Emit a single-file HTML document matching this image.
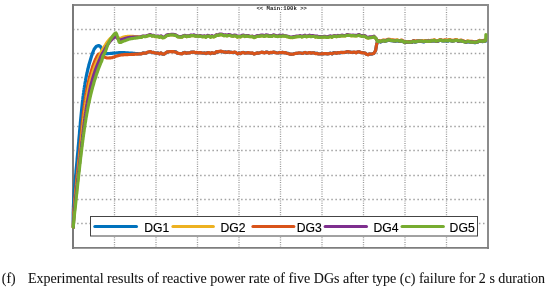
<!DOCTYPE html>
<html><head><meta charset="utf-8">
<style>
html,body{margin:0;padding:0;background:#fff;}
body{width:550px;height:290px;position:relative;overflow:hidden;}
svg{position:absolute;left:0;top:0;}
.cap{position:absolute;left:0;top:0;font-family:"Liberation Serif",serif;font-size:13.8px;color:#111;white-space:nowrap;-webkit-text-stroke:0.08px #111;}
</style></head><body>
<svg width="550" height="290" viewBox="0 0 550 290">
<g stroke="#a0a0a0" stroke-width="1.3" stroke-dasharray="1.5 2.6" fill="none"><line x1="73" y1="29.5" x2="488" y2="29.5"/><line x1="73" y1="53.5" x2="488" y2="53.5"/><line x1="73" y1="77.5" x2="488" y2="77.5"/><line x1="73" y1="102.5" x2="488" y2="102.5"/><line x1="73" y1="126.5" x2="488" y2="126.5"/><line x1="73" y1="150.5" x2="488" y2="150.5"/><line x1="73" y1="175.5" x2="488" y2="175.5"/><line x1="73" y1="199.5" x2="488" y2="199.5"/><line x1="73" y1="223.5" x2="488" y2="223.5"/></g>
<g stroke="#999" stroke-width="1.3" stroke-dasharray="1 1.3" fill="none"><line x1="114.5" y1="5" x2="114.5" y2="248"/><line x1="156.0" y1="5" x2="156.0" y2="248"/><line x1="197.5" y1="5" x2="197.5" y2="248"/><line x1="239.0" y1="5" x2="239.0" y2="248"/><line x1="280.5" y1="5" x2="280.5" y2="248"/><line x1="322.0" y1="5" x2="322.0" y2="248"/><line x1="363.5" y1="5" x2="363.5" y2="248"/><line x1="405.0" y1="5" x2="405.0" y2="248"/><line x1="446.5" y1="5" x2="446.5" y2="248"/></g>
<rect x="255" y="6" width="54" height="5.5" fill="#fff"/>
<text x="256.5" y="9.6" font-family="Liberation Mono, monospace" font-size="5.6" font-weight="bold" fill="#222">&lt;&lt; Main:100k &gt;&gt;</text>
<g stroke-width="2" fill="none">
<line x1="72" y1="5" x2="489" y2="5" stroke="#8a8a8a"/>
<line x1="488" y1="4" x2="488" y2="249" stroke="#8c8c8c"/>
<line x1="72" y1="247.8" x2="489" y2="247.8" stroke="#7e7e7e" stroke-width="1.7"/>
<line x1="73" y1="4" x2="73" y2="249" stroke="#7a7a7a"/>
</g>
<g fill="none" stroke-width="3.2" stroke-linejoin="round" stroke-linecap="round">
<path d="M73.4 227.2L73.4 226.4L73.3 225.3L73.3 224.2L73.2 223.2L73.2 222.2L73.2 221.2L73.2 220.2L73.2 219.2L73.2 218.2L73.2 217.2L73.2 216.2L73.2 215.2L73.2 214.2L73.2 213.2L73.2 212.2L73.3 211.2L73.3 210.2L73.3 209.2L73.4 208.2L73.4 207.2L73.4 206.2L73.5 205.2L73.5 204.2L73.6 203.2L73.6 202.2L73.7 201.2L73.7 200.2L73.8 199.2L73.9 198.2L73.9 197.2L74.0 196.2L74.1 195.2L74.1 194.2L74.2 193.2L74.3 192.2L74.3 191.2L74.4 190.2L74.5 189.2L74.6 188.2L74.7 187.2L74.7 186.2L74.8 185.2L74.9 184.2L75.0 183.2L75.1 182.2L75.2 181.2L75.2 180.2L75.3 179.2L75.4 178.2L75.5 177.2L75.6 176.2L75.7 175.2L75.8 174.2L75.9 173.2L76.0 172.2L76.0 171.2L76.1 170.2L76.2 169.2L76.3 168.2L76.4 167.2L76.5 166.2L76.6 165.2L76.7 164.2L76.8 163.2L76.9 162.2L77.0 161.2L77.1 160.2L77.1 159.2L77.2 158.2L77.3 157.2L77.4 156.2L77.5 155.2L77.6 154.2L77.7 153.2L77.8 152.2L77.9 151.2L78.0 150.2L78.1 149.2L78.1 148.2L78.2 147.2L78.3 146.2L78.4 145.2L78.5 144.2L78.6 143.2L78.7 142.2L78.8 141.2L78.8 140.2L78.9 139.2L79.0 138.2L79.1 137.2L79.2 136.2L79.3 135.2L79.4 134.2L79.5 133.2L79.5 132.2L79.6 131.2L79.7 130.2L79.8 129.2L79.9 128.2L80.0 127.2L80.1 126.2L80.2 125.2L80.3 124.2L80.3 123.2L80.4 122.2L80.5 121.2L80.6 120.2L80.7 119.2L80.8 118.2L80.9 117.2L81.0 116.2L81.1 115.2L81.2 114.2L81.3 113.2L81.4 112.2L81.5 111.2L81.6 110.2L81.7 109.2L81.8 108.2L81.9 107.2L82.0 106.2L82.1 105.2L82.2 104.2L82.3 103.2L82.4 102.2L82.5 101.2L82.6 100.2L82.8 99.2L82.9 98.2L83.0 97.2L83.1 96.2L83.3 95.2L83.4 94.2L83.5 93.2L83.7 92.2L83.8 91.2L83.9 90.2L84.1 89.2L84.2 88.2L84.4 87.2L84.5 86.2L84.7 85.2L84.9 84.2L85.0 83.2L85.2 82.2L85.4 81.2L85.6 80.2L85.7 79.2L85.9 78.2L86.1 77.2L86.3 76.2L86.5 75.2L86.7 74.2L87.0 73.2L87.2 72.2L87.4 71.2L87.6 70.2L87.9 69.2L88.1 68.2L88.4 67.2L88.6 66.2L88.9 65.2L89.1 64.2L89.4 63.2L89.7 62.2L90.0 61.2L90.3 60.2L90.6 59.2L90.9 58.2L91.2 57.2L91.5 56.2L91.9 55.2L92.2 54.2L92.6 53.2L93.0 52.1L93.4 51.0L93.7 50.2L93.9 49.6L94.5 48.7L95.4 47.5L96.2 46.5L97.5 45.8L98.7 45.6L99.7 46.0L100.6 46.8L101.1 47.8L101.6 49.0L102.0 50.0L102.4 51.1L102.9 52.0L103.7 52.9L104.6 53.4L105.6 53.6L107.0 53.6L107.8 53.6L108.7 53.5L109.7 53.5L110.8 53.4L112.0 53.3L112.9 53.2L113.8 53.2L114.8 53.1L115.8 53.0L116.9 52.9L117.9 52.8L119.0 52.7L120.0 52.7L121.0 52.7L121.9 52.7L122.8 52.7L123.8 52.7L124.7 52.7L125.7 52.8L126.8 52.8L128.0 52.9L128.9 53.0L129.9 53.0L131.0 53.1L132.1 53.2L133.3 53.3L134.5 53.4L135.6 53.5L136.7 53.6L137.8 53.7L138.6 53.8L139.4 53.8L140.0 53.9L141.5 53.7L143.0 52.9L144.5 53.1L146.0 53.1L147.5 52.3L149.0 52.0L150.5 51.7L152.0 52.6L153.5 52.4L155.0 53.0L156.5 53.3L158.0 52.9L159.5 53.8L161.0 52.9L162.5 54.2L164.0 54.1L165.5 53.2L167.0 52.1L168.5 51.8L170.0 51.5L171.5 51.5L173.0 51.5L174.5 51.7L176.0 51.9L177.5 53.2L179.0 53.5L180.5 53.7L182.0 53.7L183.5 52.7L185.0 52.4L186.5 53.3L188.0 52.8L189.5 53.0L191.0 52.2L192.5 52.2L194.0 52.2L195.5 52.8L197.0 52.6L198.5 53.0L200.0 52.5L201.5 52.9L203.0 53.2L204.5 52.9L206.0 53.7L207.5 52.7L209.0 52.9L210.5 53.6L212.0 52.6L213.5 53.4L215.0 53.1L216.5 51.7L218.0 52.1L219.5 51.5L221.0 51.3L222.5 51.8L224.0 52.2L225.5 51.8L227.0 52.4L228.5 51.8L230.0 52.1L231.5 52.4L233.0 52.7L234.5 52.2L236.0 52.7L237.5 53.8L239.0 53.0L240.5 53.6L242.0 52.5L243.5 52.4L245.0 53.0L246.5 52.8L248.0 52.8L249.5 53.0L251.0 53.3L252.5 53.0L254.0 54.0L255.5 53.4L257.0 52.9L258.5 53.1L260.0 52.7L261.5 52.3L263.0 52.4L264.5 52.8L266.0 52.2L267.5 52.1L269.0 53.0L270.5 52.5L272.0 52.8L273.5 52.1L275.0 52.4L276.5 52.8L278.0 53.0L279.5 52.4L281.0 52.9L282.5 52.3L284.0 52.7L285.5 52.8L287.0 53.3L288.5 53.4L290.0 54.2L291.5 54.3L293.0 54.0L294.5 53.5L296.0 53.3L297.5 53.3L299.0 53.0L300.5 53.0L302.0 53.5L303.5 52.9L305.0 52.4L306.5 53.3L308.0 53.0L309.5 52.5L311.0 53.1L312.5 52.9L314.0 52.8L315.5 53.5L317.0 53.2L318.5 54.0L320.0 53.9L321.5 53.7L323.0 54.0L324.5 53.6L326.0 53.6L327.5 54.0L329.0 53.6L330.5 53.1L332.0 54.0L333.5 52.7L335.0 52.9L336.5 53.3L338.0 52.5L339.5 52.9L341.0 52.6L342.5 52.4L344.0 52.5L345.5 52.5L347.0 51.7L348.5 51.8L350.0 52.0L351.5 52.4L353.0 52.3L354.5 52.3L356.0 52.5L357.5 52.1L359.0 51.7L360.5 52.3L362.0 52.7L363.5 52.7L365.0 53.0L366.5 54.3L368.0 54.6L369.5 54.0L371.0 54.2L372.5 53.9L374.0 53.2L375.6 50.5L376.6 44.5L377.6 41.7L379.0 41.3L380.5 41.9L382.0 41.3L383.5 40.8L385.0 41.3L386.5 41.0L388.0 39.9L389.5 40.2L391.0 40.7L392.5 40.7L394.0 40.9L395.5 41.3L397.0 40.8L398.5 41.1L400.0 41.5L401.5 40.8L403.0 41.6L404.5 42.4L406.0 42.1L407.5 42.5L409.0 42.3L410.5 42.3L412.0 42.3L413.5 41.3L415.0 41.9L416.5 41.8L418.0 41.5L419.5 41.4L421.0 41.1L422.5 41.7L424.0 41.8L425.5 41.2L427.0 41.5L428.5 41.2L430.0 41.5L431.5 40.9L433.0 41.0L434.5 40.6L436.0 41.5L437.5 41.4L439.0 40.7L440.5 40.3L442.0 40.8L443.5 41.0L445.0 40.7L446.5 40.9L448.0 41.1L449.5 40.3L451.0 40.8L452.5 41.1L454.0 40.8L455.5 40.3L457.0 40.5L458.5 41.2L460.0 41.0L461.5 41.0L463.0 41.5L464.5 41.8L466.0 42.3L467.5 41.7L469.0 41.9L470.5 42.1L472.0 42.1L473.5 42.4L475.0 42.8L476.5 42.3L478.0 41.9L479.5 41.2L481.0 41.3L482.5 41.6L484.0 41.2L485.5 41.2" stroke="#0072BD"/>
<path d="M73.3 227.2L73.4 226.4L73.4 225.3L73.4 224.2L73.4 223.2L73.4 222.2L73.4 221.2L73.5 220.2L73.5 219.2L73.5 218.2L73.6 217.2L73.6 216.2L73.7 215.2L73.7 214.2L73.8 213.2L73.8 212.2L73.9 211.2L74.0 210.2L74.0 209.2L74.1 208.2L74.2 207.2L74.3 206.2L74.3 205.2L74.4 204.2L74.5 203.2L74.6 202.2L74.7 201.2L74.8 200.2L74.8 199.2L74.9 198.2L75.0 197.2L75.1 196.2L75.2 195.2L75.3 194.2L75.4 193.2L75.5 192.2L75.6 191.2L75.7 190.2L75.8 189.2L75.9 188.2L76.0 187.2L76.1 186.2L76.2 185.2L76.3 184.2L76.4 183.2L76.5 182.2L76.6 181.2L76.7 180.2L76.8 179.2L76.9 178.2L77.0 177.2L77.1 176.2L77.2 175.2L77.3 174.2L77.5 173.2L77.6 172.2L77.7 171.2L77.8 170.2L77.9 169.2L78.0 168.2L78.1 167.2L78.2 166.2L78.3 165.2L78.4 164.2L78.5 163.2L78.6 162.2L78.7 161.2L78.8 160.2L78.9 159.2L79.0 158.2L79.1 157.2L79.2 156.2L79.3 155.2L79.4 154.2L79.5 153.2L79.6 152.2L79.7 151.2L79.8 150.2L79.9 149.2L80.0 148.2L80.1 147.2L80.2 146.2L80.2 145.2L80.3 144.2L80.4 143.2L80.5 142.2L80.6 141.2L80.7 140.2L80.8 139.2L80.9 138.2L81.0 137.2L81.1 136.2L81.2 135.2L81.3 134.2L81.4 133.2L81.5 132.2L81.6 131.2L81.7 130.2L81.8 129.2L81.9 128.2L82.0 127.2L82.0 126.2L82.1 125.2L82.2 124.2L82.3 123.2L82.4 122.2L82.5 121.2L82.6 120.2L82.8 119.2L82.9 118.2L83.0 117.2L83.1 116.2L83.2 115.2L83.3 114.2L83.4 113.2L83.5 112.2L83.6 111.2L83.8 110.2L83.9 109.2L84.0 108.2L84.1 107.2L84.2 106.2L84.4 105.2L84.5 104.2L84.6 103.2L84.8 102.2L84.9 101.2L85.1 100.2L85.2 99.2L85.4 98.2L85.5 97.2L85.7 96.2L85.8 95.2L86.0 94.2L86.2 93.2L86.4 92.2L86.5 91.2L86.7 90.2L86.9 89.2L87.1 88.2L87.3 87.2L87.5 86.2L87.7 85.2L87.9 84.2L88.1 83.2L88.4 82.2L88.6 81.2L88.8 80.2L89.1 79.2L89.3 78.2L89.6 77.2L89.8 76.2L90.1 75.2L90.4 74.2L90.7 73.2L91.0 72.2L91.3 71.2L91.6 70.2L91.9 69.2L92.2 68.2L92.5 67.2L92.9 66.2L93.2 65.2L93.6 64.2L94.0 63.1L94.4 62.2L94.7 61.2L95.2 60.0L95.6 59.1L96.2 58.0L96.7 56.9L97.2 56.0L98.0 54.7L98.8 54.0L100.6 54.2L101.6 54.8L102.6 55.6L103.5 56.4L104.6 57.1L105.5 57.5L106.5 57.8L107.7 58.0L108.7 58.0L109.8 57.9L110.9 57.8L112.0 57.6L113.0 57.3L114.0 57.0L114.9 56.6L115.9 56.3L116.9 56.0L117.9 55.7L118.9 55.4L120.0 55.2L120.9 55.0L121.9 54.9L123.0 54.8L124.0 54.7L125.0 54.6L125.9 54.6L126.8 54.5L127.6 54.6L128.7 54.5L130.0 54.5L130.8 54.5L131.8 54.4L132.9 54.3L134.1 54.3L135.3 54.2L136.5 54.1L137.6 54.1L138.6 54.0L139.4 53.9L140.0 53.9L141.5 53.9L143.0 53.0L144.5 53.1L146.0 53.1L147.5 52.2L149.0 51.9L150.5 51.6L152.0 52.5L153.5 52.4L155.0 53.0L156.5 53.1L158.0 53.0L159.5 53.9L161.0 52.8L162.5 54.2L164.0 54.1L165.5 53.1L167.0 51.9L168.5 51.8L170.0 51.7L171.5 51.6L173.0 51.6L174.5 51.9L176.0 52.1L177.5 53.1L179.0 53.4L180.5 53.6L182.0 53.8L183.5 52.8L185.0 52.6L186.5 53.3L188.0 52.9L189.5 53.0L191.0 52.3L192.5 52.1L194.0 52.0L195.5 52.8L197.0 52.4L198.5 53.0L200.0 52.6L201.5 52.9L203.0 53.0L204.5 53.0L206.0 53.5L207.5 52.8L209.0 52.6L210.5 53.6L212.0 52.7L213.5 53.2L215.0 53.1L216.5 51.5L218.0 52.0L219.5 51.3L221.0 51.2L222.5 51.6L224.0 52.1L225.5 52.0L227.0 52.3L228.5 51.9L230.0 52.3L231.5 52.3L233.0 52.5L234.5 52.0L236.0 52.6L237.5 53.9L239.0 53.0L240.5 53.6L242.0 52.7L243.5 52.5L245.0 53.2L246.5 53.0L248.0 52.6L249.5 52.8L251.0 53.1L252.5 52.9L254.0 54.1L255.5 53.5L257.0 52.9L258.5 53.1L260.0 52.8L261.5 52.2L263.0 52.4L264.5 53.0L266.0 52.0L267.5 52.3L269.0 53.2L270.5 52.3L272.0 52.6L273.5 52.0L275.0 52.5L276.5 53.0L278.0 53.0L279.5 52.5L281.0 52.7L282.5 52.4L284.0 52.8L285.5 52.6L287.0 53.3L288.5 53.7L290.0 54.2L291.5 54.0L293.0 54.3L294.5 53.7L296.0 53.3L297.5 53.2L299.0 52.9L300.5 53.0L302.0 53.3L303.5 53.1L305.0 52.6L306.5 53.1L308.0 53.1L309.5 52.5L311.0 53.2L312.5 52.9L314.0 52.8L315.5 53.6L317.0 53.4L318.5 53.9L320.0 54.0L321.5 53.7L323.0 53.9L324.5 53.5L326.0 53.7L327.5 53.9L329.0 53.7L330.5 53.3L332.0 53.8L333.5 53.0L335.0 52.7L336.5 53.3L338.0 52.6L339.5 52.8L341.0 52.3L342.5 52.6L344.0 52.4L345.5 52.2L347.0 51.9L348.5 51.7L350.0 52.1L351.5 52.5L353.0 52.2L354.5 52.0L356.0 52.8L357.5 51.9L359.0 51.8L360.5 52.4L362.0 52.8L363.5 52.9L365.0 53.0L366.5 54.3L368.0 54.8L369.5 53.9L371.0 54.0L372.5 53.9L374.0 53.2L375.6 50.5L376.6 44.5L377.6 41.0L379.0 40.7L380.5 41.1L382.0 40.5L383.5 40.0L385.0 40.6L386.5 40.1L388.0 39.3L389.5 39.3L391.0 39.8L392.5 39.9L394.0 40.1L395.5 40.3L397.0 40.0L398.5 40.5L400.0 40.7L401.5 40.0L403.0 40.8L404.5 41.9L406.0 41.7L407.5 41.8L409.0 41.6L410.5 41.5L412.0 41.5L413.5 40.5L415.0 41.1L416.5 40.9L418.0 40.8L419.5 40.5L421.0 40.6L422.5 40.9L424.0 41.2L425.5 40.5L427.0 41.0L428.5 40.4L430.0 41.0L431.5 40.3L433.0 40.3L434.5 39.9L436.0 40.6L437.5 40.5L439.0 40.2L440.5 39.6L442.0 40.3L443.5 40.3L445.0 39.9L446.5 40.1L448.0 40.2L449.5 39.5L451.0 40.2L452.5 40.3L454.0 40.4L455.5 39.5L457.0 39.9L458.5 40.6L460.0 40.4L461.5 40.1L463.0 40.8L464.5 41.2L466.0 41.5L467.5 41.1L469.0 41.4L470.5 41.4L472.0 41.4L473.5 41.7L475.0 42.1L476.5 41.8L478.0 41.1L479.5 40.4L481.0 40.7L482.5 40.7L484.0 40.4L485.5 40.2" stroke="#D95319"/>
<path d="M73.3 227.2L73.3 226.4L73.4 225.3L73.4 224.2L73.5 223.2L73.5 222.2L73.5 221.2L73.6 220.2L73.7 219.2L73.7 218.2L73.8 217.2L73.8 216.2L73.9 215.2L74.0 214.2L74.0 213.2L74.1 212.2L74.2 211.2L74.3 210.2L74.4 209.2L74.4 208.2L74.5 207.2L74.6 206.2L74.7 205.2L74.8 204.2L74.9 203.2L75.0 202.2L75.1 201.2L75.2 200.2L75.3 199.2L75.4 198.2L75.5 197.2L75.6 196.2L75.7 195.2L75.8 194.2L75.9 193.2L76.0 192.2L76.1 191.2L76.2 190.2L76.3 189.2L76.4 188.2L76.5 187.2L76.6 186.2L76.7 185.2L76.8 184.2L77.0 183.2L77.1 182.2L77.2 181.2L77.3 180.2L77.4 179.2L77.5 178.2L77.6 177.2L77.7 176.2L77.8 175.2L77.9 174.2L78.1 173.2L78.2 172.2L78.3 171.2L78.4 170.2L78.5 169.2L78.6 168.2L78.7 167.2L78.8 166.2L78.9 165.2L79.0 164.2L79.1 163.2L79.2 162.2L79.3 161.2L79.4 160.2L79.5 159.2L79.7 158.2L79.8 157.2L79.9 156.2L80.0 155.2L80.1 154.2L80.2 153.2L80.3 152.2L80.4 151.2L80.5 150.2L80.6 149.2L80.7 148.2L80.8 147.2L80.9 146.2L81.0 145.2L81.1 144.2L81.2 143.2L81.3 142.2L81.4 141.2L81.5 140.2L81.6 139.2L81.7 138.2L81.8 137.2L81.9 136.2L82.0 135.2L82.1 134.2L82.2 133.2L82.3 132.2L82.4 131.2L82.5 130.2L82.6 129.2L82.7 128.2L82.8 127.2L82.9 126.2L83.0 125.2L83.2 124.2L83.3 123.2L83.4 122.2L83.5 121.2L83.6 120.2L83.7 119.2L83.8 118.2L84.0 117.2L84.1 116.2L84.2 115.2L84.3 114.2L84.5 113.2L84.6 112.2L84.7 111.2L84.8 110.2L85.0 109.2L85.1 108.2L85.3 107.2L85.4 106.2L85.5 105.2L85.7 104.2L85.8 103.2L86.0 102.2L86.2 101.2L86.3 100.2L86.5 99.2L86.7 98.2L86.8 97.2L87.0 96.2L87.2 95.2L87.4 94.2L87.6 93.2L87.8 92.2L88.0 91.2L88.2 90.2L88.4 89.2L88.6 88.2L88.8 87.2L89.1 86.2L89.3 85.2L89.5 84.2L89.8 83.2L90.0 82.2L90.3 81.2L90.5 80.2L90.8 79.2L91.1 78.2L91.4 77.2L91.7 76.2L92.0 75.2L92.3 74.2L92.6 73.2L92.9 72.2L93.2 71.2L93.6 70.2L93.9 69.2L94.3 68.2L94.6 67.2L95.0 66.2L95.4 65.2L95.8 64.2L96.2 63.1L96.6 62.2L97.0 61.2L97.5 60.0L97.9 59.2L98.4 58.2L98.8 57.2L99.4 56.0L99.8 55.1L100.3 54.1L100.8 53.0L101.2 51.9L101.7 50.9L102.2 50.0L102.9 48.8L103.5 47.8L104.2 46.9L104.8 46.0L105.4 45.1L105.9 44.2L106.4 43.4L107.0 42.5L107.7 41.6L108.4 40.7L109.1 39.8L109.8 39.0L110.7 38.2L111.5 37.5L112.5 37.0L113.6 36.7L114.9 36.7L116.0 36.8L117.4 37.5L118.5 38.3L120.4 38.2L121.3 37.9L122.4 37.5L123.6 37.1L124.8 36.8L125.7 36.6L126.6 36.5L127.5 36.4L128.6 36.3L130.0 36.3L130.9 36.3L131.9 36.4L133.0 36.4L134.1 36.5L135.3 36.6L136.5 36.7L137.6 36.7L138.6 36.8L139.4 36.9L140.0 36.9L141.5 37.1L143.0 36.3L144.5 36.5L146.0 36.5L147.5 35.8L149.0 35.4L150.5 35.1L152.0 36.0L153.5 35.8L155.0 36.6L156.5 36.7L158.0 36.4L159.5 37.2L161.0 36.5L162.5 37.6L164.0 37.5L165.5 36.5L167.0 35.5L168.5 35.2L170.0 34.8L171.5 34.9L173.0 34.9L174.5 35.2L176.0 35.4L177.5 36.6L179.0 36.9L180.5 37.1L182.0 37.1L183.5 36.2L185.0 35.8L186.5 36.7L188.0 36.1L189.5 36.3L191.0 35.6L192.5 35.6L194.0 35.5L195.5 36.1L197.0 36.1L198.5 36.5L200.0 35.9L201.5 36.5L203.0 36.6L204.5 36.4L206.0 37.0L207.5 36.1L209.0 36.3L210.5 37.0L212.0 36.1L213.5 36.9L215.0 36.4L216.5 35.0L218.0 35.5L219.5 34.9L221.0 34.6L222.5 35.1L224.0 35.6L225.5 35.3L227.0 35.8L228.5 35.1L230.0 35.6L231.5 35.8L233.0 36.2L234.5 35.7L236.0 36.0L237.5 37.1L239.0 36.4L240.5 36.9L242.0 36.0L243.5 35.8L245.0 36.5L246.5 36.3L248.0 36.1L249.5 36.4L251.0 36.7L252.5 36.4L254.0 37.4L255.5 36.9L257.0 36.4L258.5 36.5L260.0 36.1L261.5 35.7L263.0 35.8L264.5 36.3L266.0 35.7L267.5 35.5L269.0 36.5L270.5 35.9L272.0 36.2L273.5 35.4L275.0 35.8L276.5 36.2L278.0 36.3L279.5 35.9L281.0 36.4L282.5 35.7L284.0 36.1L285.5 36.2L287.0 36.6L288.5 36.9L290.0 37.6L291.5 37.6L293.0 37.5L294.5 37.1L296.0 36.7L297.5 36.6L299.0 36.3L300.5 36.5L302.0 36.8L303.5 36.4L305.0 35.9L306.5 36.7L308.0 36.4L309.5 35.8L311.0 36.5L312.5 36.2L314.0 36.3L315.5 36.9L317.0 36.6L318.5 37.5L320.0 37.3L321.5 37.1L323.0 37.2L324.5 37.0L326.0 37.0L327.5 37.4L329.0 36.9L330.5 36.5L332.0 37.3L333.5 36.1L335.0 36.2L336.5 36.7L338.0 35.9L339.5 36.3L341.0 35.8L342.5 35.9L344.0 36.0L345.5 35.8L347.0 35.2L348.5 35.2L350.0 35.4L351.5 35.9L353.0 35.7L354.5 35.5L356.0 36.0L357.5 35.5L359.0 35.1L360.5 35.8L362.0 36.1L363.5 36.2L365.0 36.3L366.5 37.7L368.0 38.0L369.5 37.5L371.0 37.4L372.5 37.2L374.0 36.8L376.0 38.5L377.6 41.2L379.0 40.9L380.5 41.4L382.0 40.8L383.5 40.3L385.0 40.8L386.5 40.5L388.0 39.4L389.5 39.6L391.0 40.2L392.5 40.3L394.0 40.5L395.5 40.6L397.0 40.1L398.5 40.6L400.0 41.1L401.5 40.4L403.0 41.1L404.5 42.0L406.0 41.6L407.5 42.0L409.0 42.0L410.5 41.9L412.0 41.9L413.5 40.9L415.0 41.4L416.5 41.3L418.0 41.0L419.5 40.8L421.0 40.5L422.5 41.1L424.0 41.3L425.5 40.9L427.0 41.0L428.5 40.6L430.0 41.1L431.5 40.5L433.0 40.4L434.5 40.2L436.0 40.9L437.5 40.9L439.0 40.1L440.5 39.8L442.0 40.2L443.5 40.6L445.0 40.4L446.5 40.3L448.0 40.5L449.5 39.8L451.0 40.4L452.5 40.6L454.0 40.4L455.5 39.9L457.0 40.0L458.5 40.8L460.0 40.4L461.5 40.5L463.0 41.0L464.5 41.4L466.0 41.7L467.5 41.2L469.0 41.4L470.5 41.7L472.0 41.6L473.5 41.9L475.0 42.1L476.5 41.8L478.0 41.4L479.5 40.7L481.0 40.7L482.5 41.1L484.0 40.8L485.5 40.7" stroke="#EDB120"/>
<path d="M73.3 227.2L73.3 226.4L73.4 225.3L73.4 224.2L73.5 223.2L73.6 222.2L73.6 221.2L73.7 220.2L73.7 219.2L73.8 218.2L73.9 217.2L74.0 216.2L74.0 215.2L74.1 214.2L74.2 213.2L74.3 212.2L74.4 211.2L74.4 210.2L74.5 209.2L74.6 208.2L74.7 207.2L74.8 206.2L74.9 205.2L75.0 204.2L75.1 203.2L75.2 202.2L75.3 201.2L75.4 200.2L75.5 199.2L75.6 198.2L75.7 197.2L75.8 196.2L75.9 195.2L76.0 194.2L76.2 193.2L76.3 192.2L76.4 191.2L76.5 190.2L76.6 189.2L76.7 188.2L76.8 187.2L76.9 186.2L77.0 185.2L77.2 184.2L77.3 183.2L77.4 182.2L77.5 181.2L77.6 180.2L77.7 179.2L77.8 178.2L78.0 177.2L78.1 176.2L78.2 175.2L78.3 174.2L78.4 173.2L78.5 172.2L78.6 171.2L78.8 170.2L78.9 169.2L79.0 168.2L79.1 167.2L79.2 166.2L79.3 165.2L79.4 164.2L79.6 163.2L79.7 162.2L79.8 161.2L79.9 160.2L80.0 159.2L80.1 158.2L80.2 157.2L80.3 156.2L80.5 155.2L80.6 154.2L80.7 153.2L80.8 152.2L80.9 151.2L81.0 150.2L81.1 149.2L81.2 148.2L81.4 147.2L81.5 146.2L81.6 145.2L81.7 144.2L81.8 143.2L81.9 142.2L82.0 141.2L82.2 140.2L82.3 139.2L82.4 138.2L82.5 137.2L82.6 136.2L82.7 135.2L82.8 134.2L83.0 133.2L83.1 132.2L83.2 131.2L83.3 130.2L83.4 129.2L83.6 128.2L83.7 127.2L83.8 126.2L83.9 125.2L84.1 124.2L84.2 123.2L84.3 122.2L84.5 121.2L84.6 120.2L84.7 119.2L84.9 118.2L85.0 117.2L85.1 116.2L85.3 115.2L85.4 114.2L85.6 113.2L85.7 112.2L85.9 111.2L86.0 110.2L86.2 109.2L86.3 108.2L86.5 107.2L86.6 106.2L86.8 105.2L87.0 104.2L87.2 103.2L87.3 102.2L87.5 101.2L87.7 100.2L87.9 99.2L88.1 98.2L88.3 97.2L88.5 96.2L88.7 95.2L88.9 94.2L89.1 93.2L89.3 92.2L89.5 91.2L89.7 90.2L90.0 89.2L90.2 88.2L90.4 87.2L90.7 86.2L90.9 85.2L91.2 84.2L91.4 83.2L91.7 82.2L92.0 81.2L92.3 80.2L92.5 79.2L92.8 78.2L93.1 77.2L93.4 76.2L93.7 75.2L94.1 74.2L94.4 73.2L94.7 72.2L95.1 71.2L95.4 70.2L95.8 69.2L96.1 68.2L96.5 67.2L96.9 66.2L97.3 65.2L97.7 64.2L98.1 63.1L98.5 62.2L98.9 61.2L99.5 60.0L99.8 59.2L100.2 58.1L100.7 57.0L101.2 56.0L101.6 55.0L102.1 54.0L102.6 53.2L103.2 52.3L103.8 51.3L104.3 50.5L104.8 49.5L105.3 48.5L105.9 47.5L106.4 46.5L107.0 45.6L107.7 44.6L108.3 43.7L109.0 42.8L109.7 41.9L110.5 41.0L111.2 40.2L112.0 39.4L112.8 38.5L113.6 37.8L114.3 37.2L114.9 36.8L116.1 36.9L117.0 37.8L118.0 38.7L119.0 39.6L120.4 39.9L121.3 39.7L122.4 39.3L123.6 38.9L124.8 38.5L125.7 38.2L126.6 38.0L127.5 37.8L128.6 37.6L130.0 37.4L130.9 37.3L131.9 37.3L133.0 37.2L134.1 37.2L135.3 37.1L136.5 37.1L137.6 37.1L138.6 37.0L139.4 37.0L140.0 37.0L141.5 36.6L143.0 36.0L144.5 36.0L146.0 36.0L147.5 35.4L149.0 34.9L150.5 34.7L152.0 35.6L153.5 35.3L155.0 36.2L156.5 36.2L158.0 36.0L159.5 36.7L161.0 35.8L162.5 37.1L164.0 37.0L165.5 36.1L167.0 34.8L168.5 34.6L170.0 34.5L171.5 34.3L173.0 34.3L174.5 34.6L176.0 35.1L177.5 36.1L179.0 36.7L180.5 36.7L182.0 36.5L183.5 35.7L185.0 35.3L186.5 36.3L188.0 35.8L189.5 35.8L191.0 35.0L192.5 35.4L194.0 34.8L195.5 35.9L197.0 35.7L198.5 36.0L200.0 35.6L201.5 36.1L203.0 36.2L204.5 35.8L206.0 36.7L207.5 35.4L209.0 35.8L210.5 36.5L212.0 35.6L213.5 36.4L215.0 35.9L216.5 34.7L218.0 35.2L219.5 34.2L221.0 34.1L222.5 34.4L224.0 35.3L225.5 34.8L227.0 35.5L228.5 34.5L230.0 34.8L231.5 35.4L233.0 35.8L234.5 35.0L236.0 35.4L237.5 36.4L239.0 36.2L240.5 36.4L242.0 35.4L243.5 35.1L245.0 36.2L246.5 35.6L248.0 35.6L249.5 36.0L251.0 36.3L252.5 36.2L254.0 36.9L255.5 36.4L257.0 35.7L258.5 35.9L260.0 35.4L261.5 35.2L263.0 35.2L264.5 36.0L266.0 34.9L267.5 35.0L269.0 35.8L270.5 35.6L272.0 35.9L273.5 34.8L275.0 35.4L276.5 35.7L278.0 36.1L279.5 35.2L281.0 35.8L282.5 35.1L284.0 35.5L285.5 35.8L287.0 36.1L288.5 36.5L290.0 37.1L291.5 37.1L293.0 36.7L294.5 36.6L296.0 36.2L297.5 36.0L299.0 35.9L300.5 35.7L302.0 36.4L303.5 35.7L305.0 35.2L306.5 36.4L308.0 35.7L309.5 35.2L311.0 36.1L312.5 35.5L314.0 35.9L315.5 36.2L317.0 36.0L318.5 36.8L320.0 36.6L321.5 36.7L323.0 36.6L324.5 36.3L326.0 36.6L327.5 36.8L329.0 36.3L330.5 35.9L332.0 36.7L333.5 35.8L335.0 35.7L336.5 36.3L338.0 35.4L339.5 35.9L341.0 35.4L342.5 35.2L344.0 35.5L345.5 35.5L347.0 34.5L348.5 34.8L350.0 35.0L351.5 35.3L353.0 35.2L354.5 35.3L356.0 35.3L357.5 35.0L359.0 34.5L360.5 35.3L362.0 35.6L363.5 35.9L365.0 35.6L366.5 37.0L368.0 37.6L369.5 36.8L371.0 36.9L372.5 36.8L374.0 36.2L376.0 38.5L377.6 41.5L379.0 41.1L380.5 41.9L382.0 41.0L383.5 40.5L385.0 41.1L386.5 40.5L388.0 39.8L389.5 40.1L391.0 40.5L392.5 40.7L394.0 40.8L395.5 40.9L397.0 40.5L398.5 40.8L400.0 41.2L401.5 40.6L403.0 41.3L404.5 42.1L406.0 41.9L407.5 42.4L409.0 42.1L410.5 42.0L412.0 42.3L413.5 40.9L415.0 41.9L416.5 41.4L418.0 41.1L419.5 41.2L421.0 41.0L422.5 41.4L424.0 41.6L425.5 41.2L427.0 41.3L428.5 40.8L430.0 41.2L431.5 40.8L433.0 40.9L434.5 40.6L436.0 41.3L437.5 41.4L439.0 40.5L440.5 40.1L442.0 40.6L443.5 40.7L445.0 40.7L446.5 40.5L448.0 40.7L449.5 40.3L451.0 40.6L452.5 41.0L454.0 40.7L455.5 40.3L457.0 40.5L458.5 41.3L460.0 40.9L461.5 40.8L463.0 41.4L464.5 41.5L466.0 42.2L467.5 41.6L469.0 41.5L470.5 41.9L472.0 41.9L473.5 42.1L475.0 42.4L476.5 41.8L478.0 41.9L479.5 41.0L481.0 41.1L482.5 41.2L484.0 41.1L485.5 40.7" stroke="#7E2F8E"/>
<path d="M73.3 227.2L73.3 226.4L73.4 225.3L73.5 224.2L73.6 223.2L73.7 222.2L73.8 221.2L73.9 220.2L74.0 219.2L74.1 218.2L74.2 217.2L74.3 216.2L74.4 215.2L74.5 214.2L74.6 213.2L74.7 212.2L74.8 211.2L75.0 210.2L75.1 209.2L75.2 208.2L75.3 207.2L75.4 206.2L75.5 205.2L75.6 204.2L75.7 203.2L75.8 202.2L75.9 201.2L76.0 200.2L76.1 199.2L76.2 198.2L76.3 197.2L76.4 196.2L76.5 195.2L76.6 194.2L76.8 193.2L76.9 192.2L77.0 191.2L77.1 190.2L77.2 189.2L77.3 188.2L77.4 187.2L77.5 186.2L77.6 185.2L77.7 184.2L77.8 183.2L77.9 182.2L78.1 181.2L78.2 180.2L78.3 179.2L78.4 178.2L78.5 177.2L78.6 176.2L78.7 175.2L78.8 174.2L78.9 173.2L79.0 172.2L79.2 171.2L79.3 170.2L79.4 169.2L79.5 168.2L79.6 167.2L79.7 166.2L79.8 165.2L79.9 164.2L80.1 163.2L80.2 162.2L80.3 161.2L80.4 160.2L80.5 159.2L80.6 158.2L80.7 157.2L80.9 156.2L81.0 155.2L81.1 154.2L81.2 153.2L81.3 152.2L81.5 151.2L81.6 150.2L81.7 149.2L81.8 148.2L81.9 147.2L82.1 146.2L82.2 145.2L82.3 144.2L82.4 143.2L82.6 142.2L82.7 141.2L82.8 140.2L83.0 139.2L83.1 138.2L83.2 137.2L83.4 136.2L83.5 135.2L83.6 134.2L83.8 133.2L83.9 132.2L84.1 131.2L84.2 130.2L84.3 129.2L84.5 128.2L84.6 127.2L84.8 126.2L84.9 125.2L85.1 124.2L85.2 123.2L85.4 122.2L85.6 121.2L85.7 120.2L85.9 119.2L86.0 118.2L86.2 117.2L86.4 116.2L86.6 115.2L86.7 114.2L86.9 113.2L87.1 112.2L87.3 111.2L87.5 110.2L87.6 109.2L87.8 108.2L88.0 107.2L88.2 106.2L88.4 105.2L88.6 104.2L88.8 103.2L89.0 102.2L89.3 101.2L89.5 100.2L89.7 99.2L89.9 98.2L90.1 97.2L90.4 96.2L90.6 95.2L90.8 94.2L91.1 93.2L91.3 92.2L91.6 91.2L91.8 90.2L92.1 89.2L92.4 88.2L92.6 87.2L92.9 86.2L93.2 85.2L93.5 84.2L93.8 83.2L94.0 82.2L94.3 81.2L94.6 80.2L95.0 79.2L95.3 78.2L95.6 77.2L95.9 76.2L96.2 75.2L96.6 74.2L96.9 73.2L97.3 72.2L97.6 71.2L98.0 70.2L98.3 69.2L98.7 68.2L99.1 67.2L99.5 66.2L99.9 65.2L100.3 64.2L100.7 63.1L101.1 62.2L101.6 61.2L102.0 60.0L102.2 59.1L102.4 58.1L102.7 57.0L103.0 56.0L103.5 55.0L104.1 54.0L104.7 53.0L105.2 52.0L105.7 50.8L106.0 49.7L106.4 48.6L106.8 47.4L107.2 46.2L107.6 45.0L108.1 43.9L108.6 42.9L109.2 41.8L109.8 40.7L110.4 39.6L111.0 38.6L111.7 37.6L112.3 36.6L113.0 35.7L113.9 34.5L114.8 33.5L116.0 33.0L116.6 34.0L117.1 35.5L117.4 36.4L117.7 37.5L118.0 38.6L118.3 39.6L118.7 40.8L119.0 41.8L119.4 42.5L120.6 42.5L122.0 41.8L122.7 41.5L123.6 41.1L124.8 40.7L125.6 40.4L126.5 40.1L127.5 39.7L128.6 39.3L130.0 39.0L130.9 38.8L131.9 38.6L133.0 38.5L134.1 38.3L135.3 38.1L136.5 37.9L137.6 37.8L138.6 37.6L139.4 37.5L140.0 37.4L141.5 37.4L143.0 36.3L144.5 36.6L146.0 36.6L147.5 35.9L149.0 35.6L150.5 35.3L152.0 36.1L153.5 35.7L155.0 36.4L156.5 36.6L158.0 36.5L159.5 37.4L161.0 36.4L162.5 37.8L164.0 37.6L165.5 36.6L167.0 35.5L168.5 35.4L170.0 34.8L171.5 35.0L173.0 34.9L174.5 35.3L176.0 35.4L177.5 36.8L179.0 36.9L180.5 37.1L182.0 37.2L183.5 36.0L185.0 35.8L186.5 36.7L188.0 36.1L189.5 36.4L191.0 35.7L192.5 35.5L194.0 35.7L195.5 36.2L197.0 36.1L198.5 36.6L200.0 36.0L201.5 36.6L203.0 36.8L204.5 36.3L206.0 37.3L207.5 36.1L209.0 36.1L210.5 37.3L212.0 36.3L213.5 36.9L215.0 36.5L216.5 35.2L218.0 35.5L219.5 34.8L221.0 34.6L222.5 35.1L224.0 35.8L225.5 35.4L227.0 36.0L228.5 35.5L230.0 35.4L231.5 36.1L233.0 36.1L234.5 35.8L236.0 36.1L237.5 37.1L239.0 36.5L240.5 37.0L242.0 36.0L243.5 35.7L245.0 36.6L246.5 36.1L248.0 36.2L249.5 36.7L251.0 36.7L252.5 36.7L254.0 37.7L255.5 37.1L257.0 36.4L258.5 36.4L260.0 36.1L261.5 35.9L263.0 35.9L264.5 36.5L266.0 35.6L267.5 35.8L269.0 36.5L270.5 36.1L272.0 36.4L273.5 35.5L275.0 36.1L276.5 36.3L278.0 36.6L279.5 36.0L281.0 36.6L282.5 35.9L284.0 36.1L285.5 36.1L287.0 36.7L288.5 36.9L290.0 37.5L291.5 37.5L293.0 37.6L294.5 37.0L296.0 36.9L297.5 36.5L299.0 36.6L300.5 36.3L302.0 37.1L303.5 36.6L305.0 36.0L306.5 36.8L308.0 36.4L309.5 36.0L311.0 36.7L312.5 36.5L314.0 36.3L315.5 37.1L317.0 36.8L318.5 37.5L320.0 37.3L321.5 37.1L323.0 37.2L324.5 36.9L326.0 37.3L327.5 37.4L329.0 37.1L330.5 36.6L332.0 37.3L333.5 36.2L335.0 36.3L336.5 36.7L338.0 36.0L339.5 36.2L341.0 35.9L342.5 35.8L344.0 36.0L345.5 35.8L347.0 35.3L348.5 35.4L350.0 35.5L351.5 35.7L353.0 35.7L354.5 35.8L356.0 36.0L357.5 35.7L359.0 35.2L360.5 36.0L362.0 36.4L363.5 36.2L365.0 36.4L366.5 37.6L368.0 38.1L369.5 37.8L371.0 37.7L372.5 37.3L374.0 36.8L376.0 38.5L377.6 41.5L379.0 41.4L380.5 41.6L382.0 41.0L383.5 40.6L385.0 41.2L386.5 40.8L388.0 39.8L389.5 40.0L391.0 40.5L392.5 40.6L394.0 40.8L395.5 41.0L397.0 40.4L398.5 40.8L400.0 41.2L401.5 40.5L403.0 41.5L404.5 42.3L406.0 41.8L407.5 42.1L409.0 42.0L410.5 42.3L412.0 41.9L413.5 41.3L415.0 41.9L416.5 41.7L418.0 41.1L419.5 41.1L421.0 41.0L422.5 41.2L424.0 41.5L425.5 41.0L427.0 41.5L428.5 41.0L430.0 41.4L431.5 40.6L433.0 40.8L434.5 40.4L436.0 41.3L437.5 41.0L439.0 40.5L440.5 40.1L442.0 40.7L443.5 40.8L445.0 40.6L446.5 40.5L448.0 41.0L449.5 40.1L451.0 40.8L452.5 40.8L454.0 40.9L455.5 40.4L457.0 40.3L458.5 41.0L460.0 40.7L461.5 40.8L463.0 41.5L464.5 41.9L466.0 42.1L467.5 41.3L469.0 41.5L470.5 42.1L472.0 42.0L473.5 42.2L475.0 42.3L476.5 42.2L478.0 41.8L479.5 40.9L481.0 41.2L482.5 41.2L484.0 41.3L485.5 40.8L485.8 38.0L485.9 34.5" stroke="#77AC30"/>

</g>
<rect x="90.5" y="216.5" width="387" height="19.5" fill="#fff" stroke="#444" stroke-width="1"/>
<g stroke-width="3" stroke-linecap="round">
<line x1="94.8" y1="226.5" x2="136.5" y2="226.5" stroke="#0072BD"/>
<line x1="172.9" y1="226.5" x2="213.4" y2="226.5" stroke="#EDB120"/>
<line x1="252.9" y1="226.5" x2="293.9" y2="226.5" stroke="#D95319"/>
<line x1="325.1" y1="226.5" x2="366.5" y2="226.5" stroke="#7E2F8E"/>
<line x1="402" y1="226.5" x2="443.4" y2="226.5" stroke="#77AC30"/>
</g>
<g font-family="Liberation Sans, Arial, sans-serif" font-size="12.2" fill="#000" stroke="#000" stroke-width="0.15">
<text x="144.3" y="231.6">DG1</text>
<text x="220.5" y="231.6">DG2</text>
<text x="296.7" y="231.6">DG3</text>
<text x="373.4" y="231.6">DG4</text>
<text x="449.6" y="231.6">DG5</text>
</g>
</svg>
<div class="cap" style="left:1.8px;top:270.5px;">(f)</div>
<div class="cap" style="left:27.6px;top:270.5px;transform:scaleX(1.0164);transform-origin:0 0;">Experimental results of reactive power rate of five DGs after type (c) failure for 2 s duration</div>
</body></html>
